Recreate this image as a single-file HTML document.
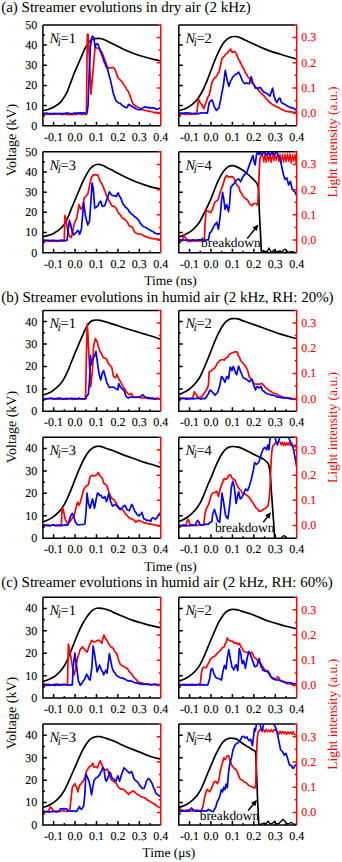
<!DOCTYPE html>
<html><head><meta charset="utf-8"><style>
html,body{margin:0;padding:0;background:#fff;}
body{width:342px;height:862px;overflow:hidden;}
svg{display:block;}
text{font-family:"Liberation Serif",serif;fill:#000;text-rendering:geometricPrecision;}
.t{font-size:15px;}
.n{font-size:12px;stroke:#000;stroke-width:0.12px;}
.r{fill:#ff0000;}
.n.r{stroke:#ff0000;}
.ax{font-size:14px;}
.ax2{font-size:13.5px;}
.ni{font-size:14.5px;}
.bk{font-size:13.4px;}
</style></head><body>
<svg width="342" height="862" viewBox="0 0 342 862">
<text x="1.2" y="11.7" class="t">(a) Streamer evolutions in dry air (2 kHz)</text>
<clipPath id="c000"><rect x="42.90" y="24.90" width="117.90" height="100.90"/></clipPath>
<g clip-path="url(#c000)" fill="none" stroke-linejoin="round" stroke-linecap="round">
<path d="M42.50,110.70 C43.30,110.53 45.92,110.08 47.30,109.70 C48.68,109.32 49.63,108.90 50.80,108.40 C51.97,107.90 53.13,107.35 54.30,106.70 C55.47,106.05 56.63,105.38 57.80,104.50 C58.97,103.62 60.32,102.52 61.30,101.40 C62.28,100.28 62.78,99.27 63.70,97.80 C64.62,96.33 65.67,95.05 66.80,92.60 C67.93,90.15 69.30,86.23 70.50,83.10 C71.70,79.97 72.83,76.72 74.00,73.80 C75.17,70.88 76.32,68.33 77.50,65.60 C78.68,62.87 79.92,60.13 81.10,57.40 C82.28,54.67 83.43,51.53 84.60,49.20 C85.77,46.87 86.93,44.97 88.10,43.40 C89.27,41.83 90.43,40.58 91.60,39.80 C92.77,39.02 93.70,38.92 95.10,38.70 C96.50,38.48 98.27,38.25 100.00,38.50 C101.73,38.75 103.83,39.53 105.50,40.20 C107.17,40.87 107.95,41.48 110.00,42.50 C112.05,43.52 115.00,44.92 117.80,46.30 C120.60,47.68 123.82,49.47 126.80,50.80 C129.78,52.13 132.73,53.27 135.70,54.30 C138.67,55.33 141.63,56.17 144.60,57.00 C147.57,57.83 150.77,58.63 153.50,59.30 C156.23,59.97 159.75,60.72 161.00,61.00" stroke="#000" stroke-width="1.7"/>
<polyline points="42.5,114.4 43.9,114.2 45.3,114.1 46.7,114.5 48.2,114.0 49.6,114.4 51.0,114.3 52.4,114.0 53.8,114.4 55.2,114.0 56.7,114.3 58.1,114.0 59.5,114.0 60.9,114.3 62.3,114.6 63.7,114.0 65.2,114.1 66.6,114.5 68.0,114.7 69.4,114.4 70.8,114.2 72.2,114.8 73.7,113.9 75.1,114.6 76.5,114.1 77.9,114.0 79.3,114.0 80.7,114.1 82.2,114.6 83.6,114.0 85.0,114.4 86.4,114.3 87.3,34.4 88.2,34.4 91.0,94.1 95.1,47.2 97.4,48.3 100.0,49.0 100.6,50.4 101.5,51.6 102.0,53.0 102.7,54.3 105.4,61.5 108.0,68.6 109.2,67.8 110.7,67.7 113.4,67.7 114.6,69.0 115.4,70.6 116.0,72.2 117.8,77.5 118.9,78.8 120.2,79.8 121.4,81.0 122.4,82.3 123.1,83.7 124.1,85.0 125.0,86.4 126.0,87.7 126.5,89.2 127.5,90.5 128.5,91.8 131.2,98.9 133.0,104.3 134.5,105.0 135.7,106.0 137.4,107.0 139.2,107.8 141.0,108.7 142.8,109.6 144.5,110.4 146.4,110.5 148.1,111.1 149.9,111.4 151.7,111.7 153.5,112.3 154.9,112.9 156.5,112.3 158.0,112.8 159.5,113.2 161.0,113.2" stroke="#ff0000" stroke-width="1.7"/>
<polyline points="42.5,113.5 43.9,113.2 45.4,113.5 46.8,113.1 48.2,113.6 49.7,113.7 51.1,113.5 52.6,113.8 54.0,113.3 55.4,113.6 56.9,113.5 58.3,113.5 59.7,113.3 61.2,113.7 62.6,113.8 64.0,113.3 65.5,113.5 66.9,112.9 68.3,113.5 69.8,113.4 71.2,113.8 72.6,113.6 74.1,113.1 75.5,113.2 77.0,113.4 78.4,112.8 79.8,113.2 81.3,112.9 82.7,112.9 84.1,112.8 85.6,113.5 87.0,113.2 88.1,105.0 89.3,70.3 90.4,47.2 91.6,37.9 92.7,36.2 93.9,37.9 95.1,47.2 95.6,45.3 96.8,43.7 98.0,44.3 99.7,49.5 102.0,55.3 104.3,62.2 105.1,63.5 105.6,64.9 105.7,66.4 107.0,67.5 107.3,68.9 107.8,70.3 110.7,81.1 113.4,93.6 116.0,100.7 117.8,102.5 119.1,103.0 120.5,103.4 121.6,104.9 123.2,106.0 124.9,107.2 126.8,107.8 127.9,106.2 128.5,104.3 130.0,105.0 131.2,106.0 132.7,106.8 134.3,107.7 135.7,108.7 137.4,109.3 139.2,109.7 141.0,109.6 142.0,108.4 143.2,107.6 144.6,106.9 146.5,107.1 148.2,107.8 150.0,107.6 151.7,107.8 153.5,107.8 155.3,108.6 157.1,109.3 159.0,108.4 161.0,107.8" stroke="#0000ff" stroke-width="1.7"/>
</g>
<path d="M42.90,24.90 V125.80 H160.80 M42.90,24.90 H158.80" stroke="#000" stroke-width="1.5" fill="none"/>
<path d="M158.30,24.90 H160.80 V125.80" stroke="#ff0000" stroke-width="1.5" fill="none"/>
<path d="M53.62,125.80 v-4 M64.34,125.80 v-2 M75.05,125.80 v-4 M85.77,125.80 v-2 M96.49,125.80 v-4 M107.21,125.80 v-2 M117.93,125.80 v-4 M128.65,125.80 v-2 M139.36,125.80 v-4 M150.08,125.80 v-2 M42.90,115.71 h2 M42.90,105.62 h4 M42.90,95.53 h2 M42.90,85.44 h4 M42.90,75.35 h2 M42.90,65.26 h4 M42.90,55.17 h2 M42.90,45.08 h4 M42.90,34.99 h2" stroke="#000" stroke-width="1.5" fill="none"/>
<path d="M160.80,113.19 h-4 M160.80,100.58 h-2 M160.80,87.96 h-4 M160.80,75.35 h-2 M160.80,62.74 h-4 M160.80,50.12 h-2 M160.80,37.51 h-4" stroke="#ff0000" stroke-width="1.5" fill="none"/>
<text x="53.62" y="140.60" class="n" text-anchor="middle">-0.1</text>
<text x="75.05" y="140.60" class="n" text-anchor="middle">0.0</text>
<text x="96.49" y="140.60" class="n" text-anchor="middle">0.1</text>
<text x="117.93" y="140.60" class="n" text-anchor="middle">0.2</text>
<text x="139.36" y="140.60" class="n" text-anchor="middle">0.3</text>
<text x="160.80" y="140.60" class="n" text-anchor="middle">0.4</text>
<text x="37.2" y="129.70" class="n" text-anchor="end">0</text>
<text x="37.2" y="109.52" class="n" text-anchor="end">10</text>
<text x="37.2" y="89.34" class="n" text-anchor="end">20</text>
<text x="37.2" y="69.16" class="n" text-anchor="end">30</text>
<text x="37.2" y="48.98" class="n" text-anchor="end">40</text>
<text x="37.2" y="28.80" class="n" text-anchor="end">50</text>
<text x="49.50" y="43.10" class="ni"><tspan font-style="italic">N</tspan><tspan font-style="italic" font-size="12" dx="-1.6" dy="3">i</tspan><tspan dx="-0.4" dy="-3">=1</tspan></text>
<clipPath id="c001"><rect x="178.80" y="24.90" width="117.90" height="100.90"/></clipPath>
<g clip-path="url(#c001)" fill="none" stroke-linejoin="round" stroke-linecap="round">
<path d="M178.50,110.50 C179.60,110.20 182.80,109.73 185.10,108.70 C187.40,107.67 190.22,105.93 192.30,104.30 C194.38,102.67 195.82,101.28 197.60,98.90 C199.38,96.52 201.22,93.57 203.00,90.00 C204.78,86.43 206.52,81.97 208.30,77.50 C210.08,73.03 211.92,67.65 213.70,63.20 C215.48,58.75 217.22,54.37 219.00,50.80 C220.78,47.23 222.62,44.03 224.40,41.80 C226.18,39.57 227.92,38.28 229.70,37.40 C231.48,36.52 233.55,36.53 235.10,36.50 C236.65,36.47 237.37,36.60 239.00,37.20 C240.63,37.80 242.43,38.97 244.90,40.10 C247.37,41.23 250.82,42.67 253.80,44.00 C256.78,45.33 259.82,46.83 262.80,48.10 C265.78,49.37 268.73,50.57 271.70,51.60 C274.67,52.63 277.63,53.40 280.60,54.30 C283.57,55.20 286.85,56.22 289.50,57.00 C292.15,57.78 295.33,58.67 296.50,59.00" stroke="#000" stroke-width="1.7"/>
<polyline points="178.5,114.1 180.0,113.7 181.5,114.0 183.1,114.0 184.6,114.2 186.1,114.5 187.6,114.3 189.1,114.1 190.6,114.2 192.1,114.3 193.7,113.7 195.2,114.5 196.7,114.1 198.5,98.9 199.1,100.4 199.7,101.9 200.6,103.2 201.7,104.5 202.4,105.9 203.4,107.1 203.9,108.7 206.5,100.7 207.3,99.4 207.5,97.8 208.2,96.5 209.2,95.3 211.9,82.9 212.6,81.0 213.7,79.3 214.8,77.7 216.3,76.6 217.1,75.1 217.8,73.5 219.0,72.2 221.7,59.7 222.2,58.2 223.2,57.1 224.4,56.1 225.3,54.6 226.6,53.6 227.9,52.5 228.5,51.1 230.0,50.4 230.6,49.0 231.4,50.8 232.4,52.5 233.6,51.7 235.1,51.6 236.0,53.4 236.9,54.9 237.5,56.5 238.1,58.1 238.7,59.7 239.9,61.0 240.2,62.8 241.4,64.1 241.6,65.6 242.6,66.8 243.2,68.1 244.1,69.4 244.6,70.7 244.9,72.2 245.9,73.4 246.9,74.7 247.4,76.3 248.5,77.5 249.7,78.7 250.7,80.0 250.9,81.8 252.1,82.9 253.0,84.0 254.1,84.9 254.7,86.2 255.6,87.3 257.1,88.2 258.0,89.7 259.2,90.9 260.1,92.4 261.4,93.5 262.8,94.4 263.5,95.6 264.7,96.5 265.5,97.7 266.3,98.9 267.7,99.9 268.5,101.5 269.9,102.5 271.1,103.4 272.2,104.4 273.5,105.1 275.3,105.9 277.0,106.9 278.9,107.6 280.6,108.7 282.3,109.9 284.2,110.5 285.8,111.4 287.7,111.4 289.5,111.9 291.3,111.7 293.0,112.2 294.7,112.4 296.5,112.3" stroke="#ff0000" stroke-width="1.7"/>
<polyline points="178.5,113.2 179.9,113.4 181.4,113.0 182.8,113.2 184.3,113.1 185.7,112.8 187.2,112.8 188.6,113.0 190.1,113.0 191.5,113.4 192.9,113.6 194.4,113.2 195.8,113.6 197.3,113.6 198.7,113.6 200.2,113.1 201.6,112.9 203.1,113.0 204.5,112.9 206.0,112.9 207.4,113.2 209.2,102.5 210.6,101.2 211.9,99.8 213.7,104.3 214.0,106.0 214.7,107.5 215.7,108.9 216.3,110.5 217.7,109.2 219.0,107.8 220.8,98.9 223.5,84.6 225.3,70.4 227.0,79.3 228.8,86.4 230.6,81.1 231.7,79.4 232.4,77.5 234.2,75.7 235.3,74.5 236.9,73.9 238.7,72.2 239.5,74.0 240.5,75.7 242.2,80.2 242.8,81.6 243.8,82.7 244.9,83.7 246.7,82.9 248.0,83.5 249.4,83.7 251.2,76.6 252.9,82.9 253.6,84.2 254.5,85.4 254.7,87.0 255.6,88.2 258.3,88.2 260.1,87.3 261.1,88.4 261.7,89.9 262.8,90.9 263.9,92.1 265.4,92.7 266.8,93.5 268.1,94.4 269.9,96.2 272.6,88.2 274.3,97.1 275.1,98.4 275.3,100.0 276.1,101.2 277.0,102.5 277.6,100.8 278.5,99.3 279.7,98.0 280.7,99.2 280.7,100.9 281.5,102.2 282.4,103.4 284.3,104.0 286.0,105.1 287.6,106.3 289.5,106.9 291.2,107.8 293.1,107.8 294.1,108.8 295.5,109.5 296.5,110.5" stroke="#0000ff" stroke-width="1.7"/>
</g>
<path d="M178.80,24.90 V125.80 H296.70 M178.80,24.90 H294.70" stroke="#000" stroke-width="1.5" fill="none"/>
<path d="M294.20,24.90 H296.70 V125.80" stroke="#ff0000" stroke-width="1.5" fill="none"/>
<path d="M189.52,125.80 v-4 M200.24,125.80 v-2 M210.95,125.80 v-4 M221.67,125.80 v-2 M232.39,125.80 v-4 M243.11,125.80 v-2 M253.83,125.80 v-4 M264.55,125.80 v-2 M275.26,125.80 v-4 M285.98,125.80 v-2 M178.80,115.71 h2 M178.80,105.62 h4 M178.80,95.53 h2 M178.80,85.44 h4 M178.80,75.35 h2 M178.80,65.26 h4 M178.80,55.17 h2 M178.80,45.08 h4 M178.80,34.99 h2" stroke="#000" stroke-width="1.5" fill="none"/>
<path d="M296.70,113.19 h-4 M296.70,100.58 h-2 M296.70,87.96 h-4 M296.70,75.35 h-2 M296.70,62.74 h-4 M296.70,50.12 h-2 M296.70,37.51 h-4" stroke="#ff0000" stroke-width="1.5" fill="none"/>
<text x="189.52" y="140.60" class="n" text-anchor="middle">-0.1</text>
<text x="210.95" y="140.60" class="n" text-anchor="middle">0.0</text>
<text x="232.39" y="140.60" class="n" text-anchor="middle">0.1</text>
<text x="253.83" y="140.60" class="n" text-anchor="middle">0.2</text>
<text x="275.26" y="140.60" class="n" text-anchor="middle">0.3</text>
<text x="296.70" y="140.60" class="n" text-anchor="middle">0.4</text>
<text x="301.3" y="117.09" class="n r">0.0</text>
<text x="301.3" y="91.86" class="n r">0.1</text>
<text x="301.3" y="66.64" class="n r">0.2</text>
<text x="301.3" y="41.41" class="n r">0.3</text>
<text x="185.40" y="43.10" class="ni"><tspan font-style="italic">N</tspan><tspan font-style="italic" font-size="12" dx="-1.6" dy="3">i</tspan><tspan dx="-0.4" dy="-3">=2</tspan></text>
<clipPath id="c010"><rect x="42.90" y="151.80" width="117.90" height="100.90"/></clipPath>
<g clip-path="url(#c010)" fill="none" stroke-linejoin="round" stroke-linecap="round">
<path d="M42.50,236.90 C43.20,236.73 45.22,236.30 46.70,235.90 C48.18,235.50 50.02,235.05 51.40,234.50 C52.78,233.95 53.83,233.28 55.00,232.60 C56.17,231.92 57.32,231.23 58.40,230.40 C59.48,229.57 60.53,228.58 61.50,227.60 C62.47,226.62 63.35,225.72 64.20,224.50 C65.05,223.28 65.82,221.85 66.60,220.30 C67.38,218.75 68.08,217.18 68.90,215.20 C69.72,213.22 70.40,211.13 71.50,208.40 C72.60,205.67 74.25,201.77 75.50,198.80 C76.75,195.83 77.83,193.33 79.00,190.60 C80.17,187.87 81.33,184.93 82.50,182.40 C83.67,179.87 84.83,177.55 86.00,175.40 C87.17,173.25 88.32,171.07 89.50,169.50 C90.68,167.93 91.92,166.83 93.10,166.00 C94.28,165.17 95.43,164.75 96.60,164.50 C97.77,164.25 98.93,164.28 100.10,164.50 C101.27,164.72 102.43,165.25 103.60,165.80 C104.77,166.35 105.70,167.08 107.10,167.80 C108.50,168.52 110.22,169.18 112.00,170.10 C113.78,171.02 115.33,172.02 117.80,173.30 C120.27,174.58 123.82,176.40 126.80,177.80 C129.78,179.20 132.73,180.52 135.70,181.70 C138.67,182.88 141.63,183.92 144.60,184.90 C147.57,185.88 150.77,186.92 153.50,187.60 C156.23,188.28 159.75,188.77 161.00,189.00" stroke="#000" stroke-width="1.7"/>
<polyline points="42.5,241.1 44.0,241.1 45.4,240.8 46.9,240.7 48.3,241.5 49.8,241.2 51.2,241.1 52.7,241.5 54.1,241.0 55.6,241.4 57.0,241.4 58.5,240.8 59.9,240.9 61.4,240.9 62.8,240.9 64.3,241.1 64.8,215.5 66.0,218.0 67.5,230.0 69.5,236.2 71.2,237.4 72.2,234.0 74.3,223.3 75.2,221.8 75.7,220.1 76.7,218.7 79.0,204.6 80.8,209.3 81.6,208.1 82.5,207.0 84.3,197.6 86.0,196.4 86.6,195.0 87.8,194.1 89.5,185.9 91.3,177.7 92.5,176.4 93.1,174.8 95.4,174.8 97.7,174.8 100.1,181.2 101.4,182.9 102.4,184.7 104.7,190.6 105.3,192.0 105.8,193.5 106.2,195.1 107.1,196.4 107.9,197.9 108.3,199.7 109.4,201.1 110.3,202.7 111.1,204.2 112.0,205.8 114.3,206.3 115.1,207.5 116.4,208.4 116.9,209.9 117.8,211.6 118.7,213.4 119.8,214.4 120.9,215.5 121.4,217.0 122.4,218.1 124.0,218.6 125.0,219.7 126.3,221.0 127.6,222.3 128.3,224.2 129.4,225.9 130.7,226.4 132.1,226.8 132.9,228.1 133.4,229.5 134.1,230.8 134.8,232.1 136.4,233.2 138.3,233.9 140.2,234.0 141.9,234.8 143.7,235.7 145.5,236.6 147.3,237.1 149.0,238.0 150.5,238.0 152.0,238.7 153.5,238.7 155.0,238.8 156.5,239.0 158.0,239.3 159.5,239.6 161.0,239.3" stroke="#ff0000" stroke-width="1.7"/>
<polyline points="42.5,240.3 43.9,240.2 45.4,240.4 46.8,240.3 48.3,240.3 49.7,240.5 51.1,240.3 52.6,240.3 54.0,240.3 55.5,240.7 56.9,240.5 58.4,240.6 59.8,240.7 61.2,240.1 62.7,240.4 64.1,240.7 65.6,240.6 67.0,240.3 68.2,230.0 69.5,220.4 70.5,224.0 72.3,232.0 73.3,233.4 73.8,235.0 74.7,233.6 76.1,232.7 76.9,231.5 77.8,230.4 78.8,231.6 79.2,233.0 79.6,234.5 81.4,229.2 83.7,202.3 85.5,216.3 87.8,225.1 88.0,223.6 89.1,222.4 89.5,221.0 90.7,204.6 92.1,183.0 93.3,189.4 94.8,208.1 96.1,207.5 97.1,206.4 98.3,205.1 98.9,203.5 99.6,202.1 100.7,201.1 102.4,206.4 104.7,205.8 107.1,198.8 109.4,191.8 110.1,193.1 111.0,194.2 112.0,195.3 114.3,195.6 116.4,196.5 117.1,194.5 118.4,192.9 118.8,194.5 119.4,196.1 120.5,197.4 123.2,204.5 124.6,205.5 125.3,207.2 126.8,208.1 127.7,209.1 128.6,210.3 129.1,211.7 130.3,212.5 131.3,213.9 132.9,214.7 133.9,216.1 135.1,217.0 136.3,217.9 137.5,218.8 138.5,220.2 139.5,221.6 140.1,223.2 141.4,224.3 142.4,225.7 143.7,226.8 145.7,227.3 147.3,228.6 149.0,229.5 150.8,230.4 152.0,231.2 153.5,231.8 154.4,233.0 155.8,233.3 157.1,233.9 159.1,233.9 161.0,233.6" stroke="#0000ff" stroke-width="1.7"/>
</g>
<path d="M42.90,151.80 V252.70 H160.80 M42.90,151.80 H158.80" stroke="#000" stroke-width="1.5" fill="none"/>
<path d="M158.30,151.80 H160.80 V252.70" stroke="#ff0000" stroke-width="1.5" fill="none"/>
<path d="M53.62,252.70 v-4 M64.34,252.70 v-2 M75.05,252.70 v-4 M85.77,252.70 v-2 M96.49,252.70 v-4 M107.21,252.70 v-2 M117.93,252.70 v-4 M128.65,252.70 v-2 M139.36,252.70 v-4 M150.08,252.70 v-2 M42.90,242.61 h2 M42.90,232.52 h4 M42.90,222.43 h2 M42.90,212.34 h4 M42.90,202.25 h2 M42.90,192.16 h4 M42.90,182.07 h2 M42.90,171.98 h4 M42.90,161.89 h2" stroke="#000" stroke-width="1.5" fill="none"/>
<path d="M160.80,240.09 h-4 M160.80,227.48 h-2 M160.80,214.86 h-4 M160.80,202.25 h-2 M160.80,189.64 h-4 M160.80,177.03 h-2 M160.80,164.41 h-4" stroke="#ff0000" stroke-width="1.5" fill="none"/>
<text x="53.62" y="267.50" class="n" text-anchor="middle">-0.1</text>
<text x="75.05" y="267.50" class="n" text-anchor="middle">0.0</text>
<text x="96.49" y="267.50" class="n" text-anchor="middle">0.1</text>
<text x="117.93" y="267.50" class="n" text-anchor="middle">0.2</text>
<text x="139.36" y="267.50" class="n" text-anchor="middle">0.3</text>
<text x="160.80" y="267.50" class="n" text-anchor="middle">0.4</text>
<text x="37.2" y="256.60" class="n" text-anchor="end">0</text>
<text x="37.2" y="236.42" class="n" text-anchor="end">10</text>
<text x="37.2" y="216.24" class="n" text-anchor="end">20</text>
<text x="37.2" y="196.06" class="n" text-anchor="end">30</text>
<text x="37.2" y="175.88" class="n" text-anchor="end">40</text>
<text x="37.2" y="155.70" class="n" text-anchor="end">50</text>
<text x="49.50" y="170.00" class="ni"><tspan font-style="italic">N</tspan><tspan font-style="italic" font-size="12" dx="-1.6" dy="3">i</tspan><tspan dx="-0.4" dy="-3">=3</tspan></text>
<clipPath id="c011"><rect x="178.80" y="151.80" width="117.90" height="100.90"/></clipPath>
<g clip-path="url(#c011)" fill="none" stroke-linejoin="round" stroke-linecap="round">
<path d="M178.50,237.00 C179.20,236.77 181.22,236.22 182.70,235.60 C184.18,234.98 185.85,234.17 187.40,233.30 C188.95,232.43 190.45,231.67 192.00,230.40 C193.55,229.13 195.33,227.27 196.70,225.70 C198.07,224.13 199.03,222.95 200.20,221.00 C201.37,219.05 202.48,216.45 203.70,214.00 C204.92,211.55 206.20,209.03 207.50,206.30 C208.80,203.57 210.25,200.60 211.50,197.60 C212.75,194.60 213.83,191.22 215.00,188.30 C216.17,185.38 217.33,182.55 218.50,180.10 C219.67,177.65 220.83,175.45 222.00,173.60 C223.17,171.75 224.32,170.22 225.50,169.00 C226.68,167.78 227.92,166.85 229.10,166.30 C230.28,165.75 231.43,165.65 232.60,165.70 C233.77,165.75 234.87,166.15 236.10,166.60 C237.33,167.05 238.77,167.72 240.00,168.40 C241.23,169.08 242.33,169.83 243.50,170.70 C244.67,171.57 245.83,172.62 247.00,173.60 C248.17,174.58 249.42,175.62 250.50,176.60 C251.58,177.58 252.62,178.63 253.50,179.50 C254.38,180.37 255.13,180.93 255.80,181.80 C256.47,182.67 257.05,183.43 257.50,184.70 C257.95,185.97 258.27,187.05 258.50,189.40 C258.73,191.75 258.77,195.28 258.90,198.80 C259.03,202.32 259.13,206.60 259.30,210.50 C259.47,214.40 259.70,218.30 259.90,222.20 C260.10,226.10 260.30,230.00 260.50,233.90 C260.70,237.80 260.93,242.25 261.10,245.60 C261.27,248.95 261.43,252.60 261.50,254.00" stroke="#000" stroke-width="1.7"/>
<polyline points="178.5,241.2 180.3,241.1 182.0,241.0 183.2,237.0 184.0,234.5 185.2,237.5 186.4,239.1 187.0,241.0 188.4,241.4 189.9,241.3 191.3,241.4 192.8,240.6 194.2,240.8 195.7,240.6 197.1,241.3 198.5,240.8 200.0,240.7 201.4,240.9 202.9,241.4 204.3,241.0 205.0,225.0 206.1,210.5 208.4,211.1 209.4,212.2 210.7,212.8 211.4,211.0 212.5,209.3 214.3,203.5 215.0,202.1 216.2,201.1 217.6,200.2 218.5,198.8 220.3,191.8 222.6,185.9 225.0,177.7 225.9,176.6 226.7,175.4 227.8,176.4 229.1,177.1 231.4,176.6 233.1,177.1 234.0,178.4 234.7,179.9 234.7,181.6 235.5,183.0 236.7,184.4 237.8,185.9 239.0,187.5 239.6,189.4 240.0,191.3 241.2,192.9 242.2,194.7 243.5,196.4 244.5,197.8 245.8,198.8 247.3,199.7 248.2,201.1 249.1,203.0 250.5,204.6 252.3,205.8 252.8,204.4 254.0,203.5 255.8,203.5 257.5,205.2 258.1,198.8 258.7,187.1 259.3,169.5 259.9,159.0 261.1,155.5" stroke="#ff0000" stroke-width="1.7"/>
<polyline points="261.1,155.5 262.5,154.7 263.8,162.1 265.0,154.1 266.2,162.4 267.5,154.7 268.8,161.4 270.0,153.9 271.2,162.3 272.5,154.0 273.8,160.9 275.0,154.0 276.2,160.7 277.5,154.0 278.8,161.6 280.0,154.1 281.2,163.2 282.5,154.1 283.8,162.3 285.0,154.0 286.2,161.7 287.5,153.8 288.8,161.4 290.0,153.8 291.2,163.1 292.5,154.4 293.8,161.2 295.0,154.3 296.2,163.8" stroke="#ff0000" stroke-width="1.35"/>
<polyline points="178.5,240.0 179.9,239.6 181.3,240.3 182.8,239.9 184.2,240.0 185.6,240.3 187.0,239.9 188.5,240.0 189.9,240.2 191.3,240.4 192.7,239.9 194.2,240.3 195.6,240.2 197.0,240.1 198.4,239.9 199.9,239.9 201.3,239.6 202.7,239.7 204.1,239.6 205.6,240.2 207.0,239.8 208.4,240.0 209.8,232.7 211.5,231.5 212.1,229.6 213.3,228.0 213.8,226.1 215.0,224.5 216.1,223.5 216.8,222.2 218.5,229.2 220.3,215.2 221.5,201.1 222.6,192.4 223.8,198.8 225.0,209.3 226.7,204.6 228.5,211.6 229.6,203.5 230.8,187.1 232.0,186.1 232.6,184.7 234.3,183.6 235.3,182.2 236.1,180.7 237.1,179.6 238.4,178.9 239.7,180.2 240.7,181.8 241.1,180.4 241.9,179.2 242.2,177.8 243.1,176.6 244.2,175.1 245.4,173.6 246.6,173.0 248.8,166.6 251.1,160.2 252.9,155.5 254.0,161.4 255.2,164.9 256.4,155.5 257.5,152.0 258.4,153.1 259.0,154.5 260.1,153.2 260.5,151.5 260.9,153.2 262.0,154.5 263.0,153.3 264.0,152.0 265.2,153.4 266.0,155.0 267.3,154.0 268.0,152.5 269.1,153.9 270.0,155.5 270.9,153.9 272.0,152.5 273.4,153.5 274.0,155.0 274.9,153.4 276.0,152.0 277.0,152.8 277.7,154.1 278.3,155.5 279.3,156.7 279.7,158.1 281.5,165.3 283.3,174.2 285.0,179.5 286.8,177.8 288.6,184.9 289.5,183.1 290.4,181.3 292.2,189.3 294.0,191.1 295.3,192.4 295.9,194.0 296.6,195.6" stroke="#0000ff" stroke-width="1.7"/>
<polyline points="261.5,252.5 263.4,250.5 264.6,252.3 265.8,251.3 267.0,252.5 268.9,248.0 270.7,251.5 272.0,252.3 273.8,249.9 275.7,252.0 278.1,251.5 280.6,251.0 282.0,252.0 283.6,249.8 285.5,249.2 287.0,251.0 288.5,252.2 290.4,251.8 292.9,251.5 294.5,252.5 296.5,252.6" stroke="#000" stroke-width="1.3"/>
</g>
<path d="M178.80,151.80 V252.70 H296.70 M178.80,151.80 H294.70" stroke="#000" stroke-width="1.5" fill="none"/>
<path d="M294.20,151.80 H296.70 V252.70" stroke="#ff0000" stroke-width="1.5" fill="none"/>
<path d="M189.52,252.70 v-4 M200.24,252.70 v-2 M210.95,252.70 v-4 M221.67,252.70 v-2 M232.39,252.70 v-4 M243.11,252.70 v-2 M253.83,252.70 v-4 M264.55,252.70 v-2 M275.26,252.70 v-4 M285.98,252.70 v-2 M178.80,242.61 h2 M178.80,232.52 h4 M178.80,222.43 h2 M178.80,212.34 h4 M178.80,202.25 h2 M178.80,192.16 h4 M178.80,182.07 h2 M178.80,171.98 h4 M178.80,161.89 h2" stroke="#000" stroke-width="1.5" fill="none"/>
<path d="M296.70,240.09 h-4 M296.70,227.48 h-2 M296.70,214.86 h-4 M296.70,202.25 h-2 M296.70,189.64 h-4 M296.70,177.03 h-2 M296.70,164.41 h-4" stroke="#ff0000" stroke-width="1.5" fill="none"/>
<text x="189.52" y="267.50" class="n" text-anchor="middle">-0.1</text>
<text x="210.95" y="267.50" class="n" text-anchor="middle">0.0</text>
<text x="232.39" y="267.50" class="n" text-anchor="middle">0.1</text>
<text x="253.83" y="267.50" class="n" text-anchor="middle">0.2</text>
<text x="275.26" y="267.50" class="n" text-anchor="middle">0.3</text>
<text x="296.70" y="267.50" class="n" text-anchor="middle">0.4</text>
<text x="301.3" y="243.99" class="n r">0.0</text>
<text x="301.3" y="218.76" class="n r">0.1</text>
<text x="301.3" y="193.54" class="n r">0.2</text>
<text x="301.3" y="168.31" class="n r">0.3</text>
<text x="185.40" y="170.00" class="ni"><tspan font-style="italic">N</tspan><tspan font-style="italic" font-size="12" dx="-1.6" dy="3">i</tspan><tspan dx="-0.4" dy="-3">=4</tspan></text>
<text x="201.1" y="247.0" class="bk">breakdown</text>
<path d="M247.20,238.60 L255.29,228.42" stroke="#000" stroke-width="1.5" fill="none"/>
<path d="M258.40,224.50 L256.86,230.94 L252.48,227.46 Z" fill="#000"/>
<text transform="translate(15.8,140.10) rotate(-90)" class="ax" text-anchor="middle">Voltage (kV)</text>
<text transform="translate(337.4,141.90) rotate(-90)" class="ax2 r" text-anchor="middle">Light intensity (a.u.)</text>
<text x="170.45" y="285.4" class="ax2" text-anchor="middle">Time (ns)</text>
<text x="1.2" y="301.8" class="t">(b) Streamer evolutions in humid air (2 kHz, RH: 20%)</text>
<clipPath id="c100"><rect x="42.90" y="310.40" width="117.90" height="100.90"/></clipPath>
<g clip-path="url(#c100)" fill="none" stroke-linejoin="round" stroke-linecap="round">
<path d="M42.50,395.30 C43.20,395.05 45.22,394.40 46.70,393.80 C48.18,393.20 49.85,392.63 51.40,391.70 C52.95,390.77 54.45,389.57 56.00,388.20 C57.55,386.83 59.33,385.15 60.70,383.50 C62.07,381.85 63.03,380.35 64.20,378.30 C65.37,376.25 66.48,373.95 67.70,371.20 C68.92,368.45 70.20,365.02 71.50,361.80 C72.80,358.58 74.25,354.92 75.50,351.90 C76.75,348.88 77.83,346.42 79.00,343.70 C80.17,340.98 81.33,338.22 82.50,335.60 C83.67,332.98 84.83,330.15 86.00,328.00 C87.17,325.85 88.32,323.97 89.50,322.70 C90.68,321.43 91.92,320.85 93.10,320.40 C94.28,319.95 95.43,320.00 96.60,320.00 C97.77,320.00 98.93,320.18 100.10,320.40 C101.27,320.62 102.43,320.98 103.60,321.30 C104.77,321.62 105.70,321.87 107.10,322.30 C108.50,322.73 110.22,323.33 112.00,323.90 C113.78,324.47 115.33,324.90 117.80,325.70 C120.27,326.50 123.82,327.75 126.80,328.70 C129.78,329.65 132.73,330.50 135.70,331.40 C138.67,332.30 141.63,333.20 144.60,334.10 C147.57,335.00 150.77,335.90 153.50,336.80 C156.23,337.70 159.75,339.05 161.00,339.50" stroke="#000" stroke-width="1.7"/>
<polyline points="42.5,398.9 43.9,398.5 45.4,398.8 46.8,398.5 48.2,398.5 49.7,398.7 51.1,398.7 52.5,399.0 54.0,398.9 55.4,399.1 56.8,399.0 58.3,399.1 59.7,399.2 61.1,398.8 62.6,398.7 64.0,399.3 65.4,398.6 66.9,399.1 68.3,399.0 69.7,398.5 71.2,399.2 72.6,399.3 74.0,399.0 75.5,399.1 76.9,399.2 78.3,398.6 79.8,398.9 81.2,398.9 82.6,399.2 84.1,399.2 85.5,398.9 86.3,360.0 87.2,323.9 88.0,335.0 89.0,357.8 90.7,387.0 92.5,369.5 93.6,346.1 95.4,338.5 96.0,340.1 97.1,341.4 98.9,348.4 99.6,350.0 100.1,351.7 101.2,353.1 101.9,354.7 102.6,356.3 103.6,357.8 105.9,358.4 106.7,359.7 107.5,361.0 107.7,362.5 108.8,363.5 109.4,364.8 110.4,365.9 111.4,366.9 112.0,368.3 113.4,376.0 115.2,377.8 116.3,376.1 116.9,374.2 118.7,378.7 119.6,380.2 120.4,381.7 121.4,383.1 122.0,384.5 122.6,385.9 123.4,387.1 124.1,388.5 125.4,389.5 125.7,391.3 126.8,392.4 128.0,393.7 129.4,394.7 131.2,393.5 132.1,395.0 133.0,396.5 134.5,396.8 136.0,397.2 137.5,397.3 139.3,397.1 141.0,398.0 142.8,398.0 144.2,397.9 145.7,397.9 147.1,398.1 148.5,398.7 149.9,398.6 151.5,398.4 153.1,398.9 154.6,399.2 156.2,398.8 157.8,398.7 159.4,398.8 161.0,398.9" stroke="#ff0000" stroke-width="1.7"/>
<polyline points="42.5,398.7 43.9,398.9 45.3,398.9 46.7,398.8 48.1,398.8 49.5,398.3 50.9,398.3 52.3,398.4 53.7,398.9 55.1,398.5 56.5,398.7 57.9,398.2 59.3,398.2 60.7,398.4 62.1,398.8 63.5,398.8 65.0,398.8 66.4,398.4 67.8,398.6 69.2,398.5 70.6,398.5 72.0,398.2 73.4,398.9 74.8,398.3 76.2,399.0 77.6,398.9 79.0,398.1 80.4,398.5 81.8,398.8 83.2,398.9 84.6,398.5 86.0,398.5 86.4,397.0 87.0,395.6 88.2,394.5 88.4,392.9 89.5,381.2 90.5,355.4 91.3,364.8 92.5,360.1 93.6,357.8 94.8,355.4 96.0,351.4 97.1,360.1 98.9,373.0 100.7,380.0 102.4,373.0 103.6,370.6 105.3,376.5 107.1,383.5 108.1,384.7 108.6,386.3 109.4,387.6 112.0,387.0 113.4,387.2 114.9,387.8 116.0,389.0 117.8,389.8 118.7,383.6 119.6,385.4 120.5,387.2 122.3,389.0 124.1,390.8 125.9,396.1 127.0,397.3 128.5,397.9 130.2,397.1 132.1,397.0 133.9,397.5 135.7,397.4 137.5,397.1 139.2,396.8 141.2,396.1 142.8,394.7 144.0,396.2 145.5,397.4 147.0,397.3 148.4,398.1 149.9,397.9 151.7,398.3 153.6,398.2 155.3,399.0 156.7,398.4 158.1,398.7 159.6,398.5 161.0,398.4" stroke="#0000ff" stroke-width="1.7"/>
</g>
<path d="M42.90,310.40 V411.30 H160.80 M42.90,310.40 H158.80" stroke="#000" stroke-width="1.5" fill="none"/>
<path d="M158.30,310.40 H160.80 V411.30" stroke="#ff0000" stroke-width="1.5" fill="none"/>
<path d="M53.62,411.30 v-4 M64.34,411.30 v-2 M75.05,411.30 v-4 M85.77,411.30 v-2 M96.49,411.30 v-4 M107.21,411.30 v-2 M117.93,411.30 v-4 M128.65,411.30 v-2 M139.36,411.30 v-4 M150.08,411.30 v-2 M42.90,400.09 h2 M42.90,388.88 h4 M42.90,377.67 h2 M42.90,366.46 h4 M42.90,355.24 h2 M42.90,344.03 h4 M42.90,332.82 h2 M42.90,321.61 h4" stroke="#000" stroke-width="1.5" fill="none"/>
<path d="M160.80,398.69 h-4 M160.80,386.07 h-2 M160.80,373.46 h-4 M160.80,360.85 h-2 M160.80,348.24 h-4 M160.80,335.62 h-2 M160.80,323.01 h-4" stroke="#ff0000" stroke-width="1.5" fill="none"/>
<text x="53.62" y="426.10" class="n" text-anchor="middle">-0.1</text>
<text x="75.05" y="426.10" class="n" text-anchor="middle">0.0</text>
<text x="96.49" y="426.10" class="n" text-anchor="middle">0.1</text>
<text x="117.93" y="426.10" class="n" text-anchor="middle">0.2</text>
<text x="139.36" y="426.10" class="n" text-anchor="middle">0.3</text>
<text x="160.80" y="426.10" class="n" text-anchor="middle">0.4</text>
<text x="37.2" y="415.20" class="n" text-anchor="end">0</text>
<text x="37.2" y="392.78" class="n" text-anchor="end">10</text>
<text x="37.2" y="370.36" class="n" text-anchor="end">20</text>
<text x="37.2" y="347.93" class="n" text-anchor="end">30</text>
<text x="37.2" y="325.51" class="n" text-anchor="end">40</text>
<text x="49.50" y="327.80" class="ni"><tspan font-style="italic">N</tspan><tspan font-style="italic" font-size="12" dx="-1.6" dy="3">i</tspan><tspan dx="-0.4" dy="-3">=1</tspan></text>
<clipPath id="c101"><rect x="178.80" y="310.40" width="117.90" height="100.90"/></clipPath>
<g clip-path="url(#c101)" fill="none" stroke-linejoin="round" stroke-linecap="round">
<path d="M178.50,394.60 C179.20,394.32 181.22,393.58 182.70,392.90 C184.18,392.22 185.85,391.52 187.40,390.50 C188.95,389.48 190.45,388.25 192.00,386.80 C193.55,385.35 195.33,383.52 196.70,381.80 C198.07,380.08 199.03,378.65 200.20,376.50 C201.37,374.35 202.47,371.73 203.70,368.90 C204.93,366.07 206.30,362.68 207.60,359.50 C208.90,356.32 210.27,352.92 211.50,349.80 C212.73,346.68 213.83,343.57 215.00,340.80 C216.17,338.03 217.33,335.53 218.50,333.20 C219.67,330.87 220.83,328.65 222.00,326.80 C223.17,324.95 224.32,323.33 225.50,322.10 C226.68,320.87 227.92,319.98 229.10,319.40 C230.28,318.82 231.43,318.73 232.60,318.60 C233.77,318.47 234.93,318.47 236.10,318.60 C237.27,318.73 238.43,319.02 239.60,319.40 C240.77,319.78 241.70,320.38 243.10,320.90 C244.50,321.42 246.22,321.88 248.00,322.50 C249.78,323.12 251.33,323.72 253.80,324.60 C256.27,325.48 259.82,326.73 262.80,327.80 C265.78,328.87 268.73,329.95 271.70,331.00 C274.67,332.05 277.63,333.13 280.60,334.10 C283.57,335.07 286.85,336.05 289.50,336.80 C292.15,337.55 295.33,338.30 296.50,338.60" stroke="#000" stroke-width="1.7"/>
<polyline points="178.5,398.3 179.9,398.1 181.3,398.0 182.7,398.2 184.1,398.1 185.6,398.6 187.0,397.9 188.4,398.5 189.8,398.6 191.2,398.0 192.6,398.3 194.4,391.7 194.9,393.1 196.1,394.0 196.8,395.6 197.9,397.0 200.2,397.5 201.7,396.6 202.6,395.2 203.6,393.6 204.9,392.3 206.0,390.5 207.2,388.8 208.4,385.0 209.2,371.8 210.9,371.2 212.0,370.0 213.3,368.9 214.8,368.1 215.6,366.6 216.4,365.3 217.0,363.8 217.9,362.5 219.1,361.3 220.3,360.1 222.6,359.5 224.4,360.1 225.1,358.8 226.1,357.8 227.9,357.2 228.4,355.5 229.6,354.3 232.0,353.1 234.3,351.9 236.7,351.9 237.8,353.3 238.0,355.2 239.0,356.6 239.9,358.1 240.2,359.9 241.3,361.3 242.7,362.6 243.7,364.2 245.0,365.5 246.0,367.1 246.7,368.7 247.6,370.1 248.0,371.8 249.4,376.9 250.4,378.0 250.9,379.5 252.1,380.4 252.7,381.8 253.6,383.0 254.7,384.0 257.4,384.2 260.1,384.2 261.9,383.3 263.1,384.7 264.5,386.0 265.6,387.7 267.2,388.8 268.2,390.0 269.6,390.6 270.8,391.4 272.5,392.5 274.3,393.2 276.3,393.7 277.9,395.0 279.3,395.8 280.9,396.2 282.4,396.8 284.1,397.4 285.9,397.6 287.7,397.8 289.5,398.0 291.4,398.2 293.1,399.0 294.8,399.4 296.5,399.0" stroke="#ff0000" stroke-width="1.7"/>
<polyline points="178.5,398.7 180.0,398.4 181.4,398.7 182.9,398.6 184.4,398.5 185.8,398.9 187.3,399.1 188.8,398.5 190.2,398.8 191.7,398.5 193.2,398.8 194.6,398.6 196.1,398.4 197.6,398.4 199.0,398.4 200.5,399.1 202.0,398.7 203.4,398.4 204.9,398.7 206.4,397.2 207.2,395.2 208.5,393.7 209.0,391.7 210.5,390.0 211.5,391.1 212.5,392.3 213.7,393.3 214.3,394.6 215.0,395.2 216.0,393.9 217.4,392.9 219.7,385.9 221.5,376.5 222.6,377.4 223.2,378.8 224.2,380.5 225.0,382.3 226.7,376.5 227.9,377.4 228.5,378.8 230.2,367.1 231.3,368.7 232.0,370.6 233.1,366.6 233.9,367.8 234.2,369.3 234.9,370.6 235.2,372.1 235.9,373.4 236.7,374.7 238.6,366.0 240.7,371.8 241.4,373.2 242.0,374.7 242.5,376.2 243.1,377.7 245.4,378.8 246.8,379.6 248.0,380.6 249.4,381.8 250.6,380.4 252.1,379.2 253.8,385.4 255.6,389.9 256.1,387.9 257.4,386.3 259.2,388.1 261.0,386.3 261.8,387.7 261.8,389.5 262.8,390.8 264.2,391.4 265.1,392.5 266.3,393.4 268.1,394.0 269.9,394.3 271.6,395.1 273.5,395.2 275.4,395.9 277.0,397.0 278.8,397.1 280.6,397.4 282.4,397.9 284.2,397.8 285.9,397.9 287.7,397.9 289.4,398.7 291.3,398.8 293.1,399.0 294.8,398.9 296.5,398.4" stroke="#0000ff" stroke-width="1.7"/>
</g>
<path d="M178.80,310.40 V411.30 H296.70 M178.80,310.40 H294.70" stroke="#000" stroke-width="1.5" fill="none"/>
<path d="M294.20,310.40 H296.70 V411.30" stroke="#ff0000" stroke-width="1.5" fill="none"/>
<path d="M189.52,411.30 v-4 M200.24,411.30 v-2 M210.95,411.30 v-4 M221.67,411.30 v-2 M232.39,411.30 v-4 M243.11,411.30 v-2 M253.83,411.30 v-4 M264.55,411.30 v-2 M275.26,411.30 v-4 M285.98,411.30 v-2 M178.80,400.09 h2 M178.80,388.88 h4 M178.80,377.67 h2 M178.80,366.46 h4 M178.80,355.24 h2 M178.80,344.03 h4 M178.80,332.82 h2 M178.80,321.61 h4" stroke="#000" stroke-width="1.5" fill="none"/>
<path d="M296.70,398.69 h-4 M296.70,386.07 h-2 M296.70,373.46 h-4 M296.70,360.85 h-2 M296.70,348.24 h-4 M296.70,335.62 h-2 M296.70,323.01 h-4" stroke="#ff0000" stroke-width="1.5" fill="none"/>
<text x="189.52" y="426.10" class="n" text-anchor="middle">-0.1</text>
<text x="210.95" y="426.10" class="n" text-anchor="middle">0.0</text>
<text x="232.39" y="426.10" class="n" text-anchor="middle">0.1</text>
<text x="253.83" y="426.10" class="n" text-anchor="middle">0.2</text>
<text x="275.26" y="426.10" class="n" text-anchor="middle">0.3</text>
<text x="296.70" y="426.10" class="n" text-anchor="middle">0.4</text>
<text x="301.3" y="402.59" class="n r">0.0</text>
<text x="301.3" y="377.36" class="n r">0.1</text>
<text x="301.3" y="352.14" class="n r">0.2</text>
<text x="301.3" y="326.91" class="n r">0.3</text>
<text x="185.40" y="327.80" class="ni"><tspan font-style="italic">N</tspan><tspan font-style="italic" font-size="12" dx="-1.6" dy="3">i</tspan><tspan dx="-0.4" dy="-3">=2</tspan></text>
<clipPath id="c110"><rect x="42.90" y="437.30" width="117.90" height="100.90"/></clipPath>
<g clip-path="url(#c110)" fill="none" stroke-linejoin="round" stroke-linecap="round">
<path d="M42.50,522.10 C43.20,521.83 45.22,521.17 46.70,520.50 C48.18,519.83 49.85,519.08 51.40,518.10 C52.95,517.12 54.45,515.97 56.00,514.60 C57.55,513.23 59.33,511.55 60.70,509.90 C62.07,508.25 63.03,506.75 64.20,504.70 C65.37,502.65 66.48,500.28 67.70,497.60 C68.92,494.92 70.20,491.80 71.50,488.60 C72.80,485.40 74.25,481.57 75.50,478.40 C76.75,475.23 77.83,472.33 79.00,469.60 C80.17,466.87 81.33,464.35 82.50,462.00 C83.67,459.65 84.83,457.40 86.00,455.50 C87.17,453.60 88.32,451.90 89.50,450.60 C90.68,449.30 91.92,448.40 93.10,447.70 C94.28,447.00 95.43,446.62 96.60,446.40 C97.77,446.18 98.93,446.23 100.10,446.40 C101.27,446.57 102.43,447.00 103.60,447.40 C104.77,447.80 105.70,448.32 107.10,448.80 C108.50,449.28 110.22,449.67 112.00,450.30 C113.78,450.93 115.33,451.63 117.80,452.60 C120.27,453.57 123.82,455.00 126.80,456.10 C129.78,457.20 132.73,458.15 135.70,459.20 C138.67,460.25 141.63,461.43 144.60,462.40 C147.57,463.37 150.77,464.17 153.50,465.00 C156.23,465.83 159.75,467.00 161.00,467.40" stroke="#000" stroke-width="1.7"/>
<polyline points="42.5,525.4 43.9,525.0 45.4,525.0 46.8,525.6 48.3,525.8 49.7,525.4 51.2,525.5 52.6,525.0 54.1,525.3 55.5,525.8 57.0,525.7 58.4,525.7 59.9,525.8 61.3,525.4 62.2,507.6 63.1,509.0 65.4,519.9 66.4,521.3 67.2,522.8 67.7,524.5 68.7,522.9 70.1,521.6 70.9,520.2 71.8,518.9 72.4,517.5 73.7,516.6 74.3,515.2 76.5,505.8 77.7,502.0 78.8,505.3 79.8,503.7 80.4,502.0 81.9,496.5 83.7,489.5 85.0,487.8 86.0,486.0 88.4,484.8 90.1,476.6 91.9,475.4 94.2,476.0 96.6,474.8 97.6,473.8 98.3,472.5 99.2,474.2 100.1,476.0 101.2,477.2 102.4,478.4 103.6,483.0 105.3,484.2 106.5,485.1 107.1,486.5 108.8,491.8 110.6,496.5 112.0,498.8 114.3,499.9 114.9,501.5 116.2,502.8 116.9,504.4 117.5,505.8 118.6,506.8 119.6,507.9 121.0,508.7 122.3,509.7 123.5,510.7 124.3,512.0 125.0,513.3 126.2,514.7 127.6,516.0 128.8,517.4 130.3,518.6 131.8,518.7 133.0,519.5 134.6,520.6 135.7,522.2 137.0,521.3 138.3,520.4 139.6,520.9 141.0,521.3 142.4,522.0 143.7,522.8 145.5,522.9 147.3,523.5 148.7,523.9 150.3,523.7 151.7,524.4 153.2,524.5 154.7,524.9 156.2,525.2 157.7,525.9 159.4,525.9 161.0,526.0" stroke="#ff0000" stroke-width="1.7"/>
<polyline points="42.5,525.4 43.9,525.7 45.3,525.4 46.7,525.1 48.1,525.1 49.5,525.8 50.9,525.5 52.3,525.1 53.7,524.9 55.1,525.3 56.5,525.4 57.9,525.2 59.3,525.0 60.7,525.4 62.1,525.6 63.5,525.0 64.9,524.8 66.3,525.1 67.7,525.2 70.1,517.5 70.7,516.1 71.6,514.8 72.2,513.4 73.6,515.8 75.3,522.2 76.4,523.2 77.1,524.5 78.7,524.8 80.3,524.7 81.9,524.5 83.4,524.3 84.9,524.0 86.0,512.9 87.0,493.0 88.4,503.5 90.1,508.2 92.5,498.8 94.5,508.2 96.0,500.0 97.5,493.0 98.7,494.0 99.5,495.3 101.2,495.3 101.7,497.0 103.0,498.2 104.7,496.5 106.5,501.7 108.8,493.6 110.6,501.7 111.5,503.1 111.8,504.8 112.8,506.2 113.9,505.1 115.2,504.4 116.7,505.6 117.8,507.1 119.0,508.6 120.5,509.7 121.3,508.4 122.6,507.6 123.2,506.2 125.0,505.3 125.6,506.8 126.5,508.1 126.8,509.7 129.4,510.6 131.7,504.4 132.7,505.8 133.2,507.3 133.9,508.8 134.4,510.2 134.9,511.7 136.2,512.7 136.6,514.2 138.0,515.0 139.2,516.0 139.9,514.6 141.3,513.9 141.9,512.4 143.7,518.6 145.2,519.2 146.4,520.4 149.0,520.4 150.8,521.3 151.3,519.3 152.6,517.7 154.2,518.3 155.3,519.5 157.1,517.7 157.9,515.9 158.9,514.2 161.0,516.0" stroke="#0000ff" stroke-width="1.7"/>
</g>
<path d="M42.90,437.30 V538.20 H160.80 M42.90,437.30 H158.80" stroke="#000" stroke-width="1.5" fill="none"/>
<path d="M158.30,437.30 H160.80 V538.20" stroke="#ff0000" stroke-width="1.5" fill="none"/>
<path d="M53.62,538.20 v-4 M64.34,538.20 v-2 M75.05,538.20 v-4 M85.77,538.20 v-2 M96.49,538.20 v-4 M107.21,538.20 v-2 M117.93,538.20 v-4 M128.65,538.20 v-2 M139.36,538.20 v-4 M150.08,538.20 v-2 M42.90,526.99 h2 M42.90,515.78 h4 M42.90,504.57 h2 M42.90,493.36 h4 M42.90,482.14 h2 M42.90,470.93 h4 M42.90,459.72 h2 M42.90,448.51 h4" stroke="#000" stroke-width="1.5" fill="none"/>
<path d="M160.80,525.59 h-4 M160.80,512.97 h-2 M160.80,500.36 h-4 M160.80,487.75 h-2 M160.80,475.14 h-4 M160.80,462.52 h-2 M160.80,449.91 h-4" stroke="#ff0000" stroke-width="1.5" fill="none"/>
<text x="53.62" y="553.00" class="n" text-anchor="middle">-0.1</text>
<text x="75.05" y="553.00" class="n" text-anchor="middle">0.0</text>
<text x="96.49" y="553.00" class="n" text-anchor="middle">0.1</text>
<text x="117.93" y="553.00" class="n" text-anchor="middle">0.2</text>
<text x="139.36" y="553.00" class="n" text-anchor="middle">0.3</text>
<text x="160.80" y="553.00" class="n" text-anchor="middle">0.4</text>
<text x="37.2" y="542.10" class="n" text-anchor="end">0</text>
<text x="37.2" y="519.68" class="n" text-anchor="end">10</text>
<text x="37.2" y="497.26" class="n" text-anchor="end">20</text>
<text x="37.2" y="474.83" class="n" text-anchor="end">30</text>
<text x="37.2" y="452.41" class="n" text-anchor="end">40</text>
<text x="49.50" y="454.70" class="ni"><tspan font-style="italic">N</tspan><tspan font-style="italic" font-size="12" dx="-1.6" dy="3">i</tspan><tspan dx="-0.4" dy="-3">=3</tspan></text>
<clipPath id="c111"><rect x="178.80" y="437.30" width="117.90" height="100.90"/></clipPath>
<g clip-path="url(#c111)" fill="none" stroke-linejoin="round" stroke-linecap="round">
<path d="M178.50,521.60 C179.20,521.32 181.22,520.62 182.70,519.90 C184.18,519.18 185.85,518.38 187.40,517.30 C188.95,516.22 190.45,514.92 192.00,513.40 C193.55,511.88 195.33,509.95 196.70,508.20 C198.07,506.45 199.03,505.05 200.20,502.90 C201.37,500.75 202.47,498.20 203.70,495.30 C204.93,492.40 206.30,488.62 207.60,485.50 C208.90,482.38 210.27,479.55 211.50,476.60 C212.73,473.65 213.83,470.53 215.00,467.80 C216.17,465.07 217.33,462.53 218.50,460.20 C219.67,457.87 220.83,455.62 222.00,453.80 C223.17,451.98 224.32,450.42 225.50,449.30 C226.68,448.18 227.92,447.57 229.10,447.10 C230.28,446.63 231.43,446.55 232.60,446.50 C233.77,446.45 234.87,446.62 236.10,446.80 C237.33,446.98 238.57,447.12 240.00,447.60 C241.43,448.08 243.13,448.97 244.70,449.70 C246.27,450.43 247.85,451.22 249.40,452.00 C250.95,452.78 252.45,453.62 254.00,454.40 C255.55,455.18 257.13,455.92 258.70,456.70 C260.27,457.48 262.03,458.22 263.40,459.10 C264.77,459.98 266.02,461.03 266.90,462.00 C267.78,462.97 268.22,463.45 268.70,464.90 C269.18,466.35 269.48,468.37 269.80,470.70 C270.12,473.03 270.35,475.58 270.60,478.90 C270.85,482.22 271.03,486.70 271.30,490.60 C271.57,494.50 271.92,498.40 272.20,502.30 C272.48,506.20 272.72,510.10 273.00,514.00 C273.28,517.90 273.62,521.37 273.90,525.70 C274.18,530.03 274.57,537.62 274.70,540.00" stroke="#000" stroke-width="1.7"/>
<polyline points="178.5,525.6 180.0,525.9 181.5,525.9 183.0,525.7 184.5,525.9 186.0,525.4 187.2,521.0 187.9,519.3 189.0,521.5 190.5,525.3 192.0,525.7 193.4,525.1 194.9,525.0 196.4,525.6 197.8,525.4 199.3,524.7 200.8,525.3 202.2,525.0 203.7,525.1 204.9,514.0 206.1,509.3 206.8,507.8 207.5,506.4 208.4,505.0 210.3,498.8 210.6,497.2 211.1,495.7 211.9,494.4 212.7,493.0 215.0,492.4 216.8,491.2 218.5,496.5 220.3,488.3 222.0,483.6 222.5,482.2 223.6,481.2 223.5,479.6 224.4,478.4 226.1,479.5 227.4,478.3 227.9,476.6 228.9,475.5 230.2,474.8 231.1,475.9 231.6,477.4 232.6,478.4 233.6,479.5 234.9,480.1 236.7,484.8 237.6,486.2 238.4,487.7 240.0,489.5 241.5,491.0 242.3,493.0 244.7,494.1 247.0,495.3 248.2,496.4 249.4,497.6 250.3,498.7 250.6,500.2 251.7,501.2 253.1,502.8 254.0,504.7 254.9,505.8 255.3,507.2 256.4,508.2 257.9,509.4 258.7,511.1 261.1,511.1 262.2,510.1 263.4,509.3 265.7,508.2 267.1,506.9 268.1,505.3 269.2,498.8 270.2,484.8 270.6,473.1 271.1,461.4 271.8,452.0 272.7,446.2 273.8,445.1 274.5,443.8 276.3,442.7 278.6,441.8" stroke="#ff0000" stroke-width="1.7"/>
<polyline points="292.6,445.2 294.5,446.5 295.5,445.0 297.0,449.5" stroke="#ff0000" stroke-width="1.7"/>
<polyline points="278.6,441.8 280.0,441.8 281.1,445.0 282.3,441.9 283.4,445.7 284.6,442.1 285.7,445.6 286.9,442.7 288.0,445.3 289.2,442.1 290.3,445.8 291.5,442.4 292.6,445.2" stroke="#ff0000" stroke-width="1.35"/>
<polyline points="178.5,525.5 179.9,525.7 181.3,525.3 182.7,525.2 184.2,525.0 185.6,525.6 187.0,525.8 188.4,525.5 189.8,525.8 191.2,524.9 192.7,525.1 194.1,525.3 195.5,525.3 196.6,522.0 197.6,520.5 199.0,522.0 199.4,523.6 200.5,524.8 202.1,525.1 203.7,524.5 205.2,524.2 206.8,524.3 208.4,524.2 210.3,522.2 211.9,521.6 212.7,514.0 214.4,509.3 216.2,515.2 217.9,521.0 219.7,522.2 220.9,508.2 222.0,493.0 223.8,503.5 225.5,515.2 226.3,516.4 226.8,517.8 227.9,518.7 229.6,505.8 231.4,487.1 232.8,481.3 234.3,487.1 236.1,503.5 237.2,497.6 238.6,491.8 240.2,498.8 241.9,497.6 242.5,495.7 243.7,494.1 245.5,489.0 247.6,490.6 249.4,486.0 251.7,477.8 253.5,469.6 254.6,462.6 256.4,464.3 258.1,463.1 258.9,461.9 259.5,460.5 259.9,459.1 261.6,453.2 263.4,448.5 265.1,447.4 265.7,448.7 266.7,449.7 267.8,445.0 269.0,449.7 269.8,440.3 270.4,437.0 272.0,437.2 273.5,437.1 275.1,437.0 276.3,442.7 277.4,445.0 278.6,441.5 279.7,437.5 281.4,437.2 283.0,437.1 284.7,437.1 286.4,437.4 288.0,437.0 289.1,438.2 289.5,439.7 290.4,441.1 290.5,442.7 291.3,444.1 292.4,445.8 293.1,447.7 294.9,456.6 296.6,466.4" stroke="#0000ff" stroke-width="1.7"/>
<polyline points="275.0,538.6 281.5,538.6 282.5,536.5 284.0,535.6 285.5,536.5 286.5,538.6 296.5,538.6" stroke="#000" stroke-width="1.3"/>
</g>
<path d="M178.80,437.30 V538.20 H296.70 M178.80,437.30 H294.70" stroke="#000" stroke-width="1.5" fill="none"/>
<path d="M294.20,437.30 H296.70 V538.20" stroke="#ff0000" stroke-width="1.5" fill="none"/>
<path d="M189.52,538.20 v-4 M200.24,538.20 v-2 M210.95,538.20 v-4 M221.67,538.20 v-2 M232.39,538.20 v-4 M243.11,538.20 v-2 M253.83,538.20 v-4 M264.55,538.20 v-2 M275.26,538.20 v-4 M285.98,538.20 v-2 M178.80,526.99 h2 M178.80,515.78 h4 M178.80,504.57 h2 M178.80,493.36 h4 M178.80,482.14 h2 M178.80,470.93 h4 M178.80,459.72 h2 M178.80,448.51 h4" stroke="#000" stroke-width="1.5" fill="none"/>
<path d="M296.70,525.59 h-4 M296.70,512.97 h-2 M296.70,500.36 h-4 M296.70,487.75 h-2 M296.70,475.14 h-4 M296.70,462.52 h-2 M296.70,449.91 h-4" stroke="#ff0000" stroke-width="1.5" fill="none"/>
<text x="189.52" y="553.00" class="n" text-anchor="middle">-0.1</text>
<text x="210.95" y="553.00" class="n" text-anchor="middle">0.0</text>
<text x="232.39" y="553.00" class="n" text-anchor="middle">0.1</text>
<text x="253.83" y="553.00" class="n" text-anchor="middle">0.2</text>
<text x="275.26" y="553.00" class="n" text-anchor="middle">0.3</text>
<text x="296.70" y="553.00" class="n" text-anchor="middle">0.4</text>
<text x="301.3" y="529.49" class="n r">0.0</text>
<text x="301.3" y="504.26" class="n r">0.1</text>
<text x="301.3" y="479.04" class="n r">0.2</text>
<text x="301.3" y="453.81" class="n r">0.3</text>
<text x="185.40" y="454.70" class="ni"><tspan font-style="italic">N</tspan><tspan font-style="italic" font-size="12" dx="-1.6" dy="3">i</tspan><tspan dx="-0.4" dy="-3">=4</tspan></text>
<text x="214.9" y="531.6" class="bk">breakdown</text>
<path d="M263.30,522.20 L267.95,516.16" stroke="#000" stroke-width="1.5" fill="none"/>
<path d="M271.00,512.20 L269.56,518.66 L265.12,515.25 Z" fill="#000"/>
<text transform="translate(15.8,427.10) rotate(-90)" class="ax" text-anchor="middle">Voltage (kV)</text>
<text transform="translate(337.4,427.40) rotate(-90)" class="ax2 r" text-anchor="middle">Light intensity (a.u.)</text>
<text x="170.45" y="570.9" class="ax2" text-anchor="middle">Time (ns)</text>
<text x="1.2" y="587.4" class="t">(c) Streamer evolutions in humid air (2 kHz, RH: 60%)</text>
<clipPath id="c200"><rect x="42.90" y="597.20" width="117.90" height="100.90"/></clipPath>
<g clip-path="url(#c200)" fill="none" stroke-linejoin="round" stroke-linecap="round">
<path d="M42.50,681.80 C43.20,681.55 45.22,680.88 46.70,680.30 C48.18,679.72 49.85,679.12 51.40,678.30 C52.95,677.48 54.45,676.67 56.00,675.40 C57.55,674.13 59.33,672.27 60.70,670.70 C62.07,669.13 63.03,667.95 64.20,666.00 C65.37,664.05 66.48,661.73 67.70,659.00 C68.92,656.27 70.20,652.85 71.50,649.60 C72.80,646.35 74.25,642.57 75.50,639.50 C76.75,636.43 77.83,633.78 79.00,631.20 C80.17,628.62 81.33,626.18 82.50,624.00 C83.67,621.82 84.83,619.87 86.00,618.10 C87.17,616.33 88.32,614.77 89.50,613.40 C90.68,612.03 91.92,610.75 93.10,609.90 C94.28,609.05 95.43,608.60 96.60,608.30 C97.77,608.00 98.93,608.03 100.10,608.10 C101.27,608.17 102.43,608.45 103.60,608.70 C104.77,608.95 105.70,609.12 107.10,609.60 C108.50,610.08 110.80,611.05 112.00,611.60 C113.20,612.15 112.43,612.08 114.30,612.90 C116.17,613.72 120.23,615.30 123.20,616.50 C126.17,617.70 129.13,619.05 132.10,620.10 C135.07,621.15 138.03,621.92 141.00,622.80 C143.97,623.68 146.57,624.57 149.90,625.40 C153.23,626.23 159.15,627.40 161.00,627.80" stroke="#000" stroke-width="1.7"/>
<polyline points="42.5,684.5 44.0,684.1 45.4,684.1 46.9,684.5 48.4,684.3 49.9,684.9 51.3,684.8 52.8,684.9 54.3,684.3 55.7,684.1 57.2,684.1 58.7,684.5 60.1,684.7 61.6,684.5 63.1,684.3 64.6,684.4 66.0,684.6 67.5,684.5 68.4,644.2 69.6,649.5 71.4,660.2 73.2,671.5 74.2,674.8 75.3,670.0 77.3,659.0 80.2,649.6 81.5,648.2 82.5,646.7 83.5,648.3 84.9,649.6 85.8,651.0 87.2,652.0 89.5,645.0 90.4,643.5 90.8,641.7 91.9,640.3 92.9,641.4 94.2,642.0 96.6,640.9 98.0,640.4 99.5,640.3 100.6,641.8 101.8,643.2 103.8,635.0 104.6,636.3 105.0,637.8 105.9,639.1 106.9,640.3 107.7,641.7 108.3,643.2 109.6,644.8 110.6,646.7 112.0,647.3 113.4,648.7 114.3,650.4 114.9,651.8 116.0,652.8 116.9,654.0 118.7,660.2 120.5,664.7 121.9,665.4 123.2,666.4 125.0,667.2 126.8,668.2 128.5,670.0 129.0,671.5 130.3,672.4 131.2,673.6 132.3,674.6 132.8,676.1 133.9,677.1 135.2,678.5 136.6,679.8 137.6,681.5 139.2,682.5 141.1,682.6 142.8,683.4 144.6,683.5 146.4,684.0 148.2,683.9 149.9,684.4 151.7,684.7 153.5,684.5 155.0,684.2 156.5,684.5 158.0,684.5 159.5,684.6 161.0,685.0" stroke="#ff0000" stroke-width="1.7"/>
<polyline points="42.5,685.0 43.9,685.4 45.3,685.1 46.8,685.4 48.2,684.9 49.6,685.3 51.0,685.0 52.4,684.8 53.9,685.2 55.3,685.4 56.7,684.6 58.1,685.1 59.5,685.1 60.9,684.7 62.4,684.9 63.8,684.7 65.2,684.7 66.6,684.8 68.0,685.1 69.5,685.1 70.9,684.7 72.3,685.0 73.2,667.2 74.9,653.1 76.7,667.2 78.4,681.2 79.4,682.4 79.7,683.9 80.2,685.3 81.5,683.9 82.5,682.4 83.1,681.1 84.0,680.0 84.9,678.9 86.6,674.2 87.7,675.8 88.4,677.7 89.0,679.0 90.1,680.0 91.9,667.2 93.1,646.1 94.8,655.5 97.1,671.9 99.5,665.0 101.2,669.5 101.8,670.8 102.8,672.0 103.3,673.3 103.6,674.8 104.3,673.2 105.2,671.7 105.9,670.1 106.4,671.6 107.1,673.0 109.4,653.7 112.0,667.2 113.4,671.3 114.6,672.3 115.4,673.5 116.0,674.9 117.1,675.9 118.4,676.6 119.6,677.5 121.4,677.8 123.2,678.4 125.1,679.1 126.8,680.2 128.2,680.9 129.8,680.6 131.2,681.1 132.7,681.8 134.2,682.2 135.7,682.9 137.5,683.1 139.2,683.8 141.0,683.8 142.8,684.4 144.6,684.0 146.4,684.3 148.2,684.2 149.9,684.8 151.7,684.7 153.3,684.5 154.8,684.3 156.3,685.2 157.9,684.8 159.4,685.2 161.0,684.9" stroke="#0000ff" stroke-width="1.7"/>
</g>
<path d="M42.90,597.20 V698.10 H160.80 M42.90,597.20 H158.80" stroke="#000" stroke-width="1.5" fill="none"/>
<path d="M158.30,597.20 H160.80 V698.10" stroke="#ff0000" stroke-width="1.5" fill="none"/>
<path d="M53.62,698.10 v-4 M64.34,698.10 v-2 M75.05,698.10 v-4 M85.77,698.10 v-2 M96.49,698.10 v-4 M107.21,698.10 v-2 M117.93,698.10 v-4 M128.65,698.10 v-2 M139.36,698.10 v-4 M150.08,698.10 v-2 M42.90,686.89 h2 M42.90,675.68 h4 M42.90,664.47 h2 M42.90,653.26 h4 M42.90,642.04 h2 M42.90,630.83 h4 M42.90,619.62 h2 M42.90,608.41 h4" stroke="#000" stroke-width="1.5" fill="none"/>
<path d="M160.80,685.49 h-4 M160.80,672.88 h-2 M160.80,660.26 h-4 M160.80,647.65 h-2 M160.80,635.04 h-4 M160.80,622.42 h-2 M160.80,609.81 h-4" stroke="#ff0000" stroke-width="1.5" fill="none"/>
<text x="53.62" y="712.90" class="n" text-anchor="middle">-0.1</text>
<text x="75.05" y="712.90" class="n" text-anchor="middle">0.0</text>
<text x="96.49" y="712.90" class="n" text-anchor="middle">0.1</text>
<text x="117.93" y="712.90" class="n" text-anchor="middle">0.2</text>
<text x="139.36" y="712.90" class="n" text-anchor="middle">0.3</text>
<text x="160.80" y="712.90" class="n" text-anchor="middle">0.4</text>
<text x="37.2" y="702.00" class="n" text-anchor="end">0</text>
<text x="37.2" y="679.58" class="n" text-anchor="end">10</text>
<text x="37.2" y="657.16" class="n" text-anchor="end">20</text>
<text x="37.2" y="634.73" class="n" text-anchor="end">30</text>
<text x="37.2" y="612.31" class="n" text-anchor="end">40</text>
<text x="49.50" y="614.60" class="ni"><tspan font-style="italic">N</tspan><tspan font-style="italic" font-size="12" dx="-1.6" dy="3">i</tspan><tspan dx="-0.4" dy="-3">=1</tspan></text>
<clipPath id="c201"><rect x="178.80" y="597.20" width="117.90" height="100.90"/></clipPath>
<g clip-path="url(#c201)" fill="none" stroke-linejoin="round" stroke-linecap="round">
<path d="M178.50,681.20 C179.20,680.95 181.22,680.32 182.70,679.70 C184.18,679.08 185.85,678.42 187.40,677.50 C188.95,676.58 190.45,675.53 192.00,674.20 C193.55,672.87 195.33,671.15 196.70,669.50 C198.07,667.85 199.03,666.35 200.20,664.30 C201.37,662.25 202.47,659.95 203.70,657.20 C204.93,654.45 206.30,650.92 207.60,647.80 C208.90,644.68 210.27,641.42 211.50,638.50 C212.73,635.58 213.83,632.93 215.00,630.30 C216.17,627.67 217.33,624.93 218.50,622.70 C219.67,620.47 220.83,618.62 222.00,616.90 C223.17,615.18 224.32,613.53 225.50,612.40 C226.68,611.27 227.92,610.62 229.10,610.10 C230.28,609.58 231.43,609.38 232.60,609.30 C233.77,609.22 234.93,609.40 236.10,609.60 C237.27,609.80 238.43,610.17 239.60,610.50 C240.77,610.83 241.70,611.17 243.10,611.60 C244.50,612.03 246.80,612.73 248.00,613.10 C249.20,613.47 248.43,613.08 250.30,613.80 C252.17,614.52 256.23,616.20 259.20,617.40 C262.17,618.60 265.13,619.97 268.10,621.00 C271.07,622.03 274.03,622.72 277.00,623.60 C279.97,624.48 282.65,625.43 285.90,626.30 C289.15,627.17 294.73,628.38 296.50,628.80" stroke="#000" stroke-width="1.7"/>
<polyline points="178.5,684.8 179.9,684.7 181.4,685.1 182.8,684.8 184.3,684.5 185.7,684.4 187.2,684.8 188.6,684.9 190.1,685.2 191.5,684.4 193.0,684.9 194.4,684.7 195.9,684.8 197.3,684.5 198.8,684.6 200.2,684.8 201.4,673.0 202.6,668.3 204.3,667.2 206.1,667.8 207.0,666.1 207.8,664.3 209.0,662.7 209.6,660.7 210.2,659.3 211.3,658.4 213.1,657.0 215.0,656.1 216.2,654.6 217.4,653.1 218.7,652.1 219.7,650.8 221.2,649.6 222.0,647.9 224.4,646.7 224.7,645.2 225.2,643.8 226.1,642.6 227.3,637.9 227.9,639.3 229.1,640.3 230.8,640.9 232.6,641.4 234.3,643.2 236.1,642.6 237.8,644.4 239.6,643.2 239.8,644.7 240.7,645.9 241.3,647.3 242.5,648.5 243.1,650.2 244.0,651.4 245.4,652.0 248.0,652.6 249.4,653.3 250.7,652.8 252.1,652.4 252.4,653.9 253.3,655.1 253.8,656.5 254.7,657.7 256.3,658.8 257.4,660.4 258.6,661.9 260.1,663.1 261.2,664.1 262.0,665.4 262.8,666.6 263.4,668.0 264.3,669.2 265.4,670.2 267.0,671.3 268.1,672.9 269.2,673.9 270.0,675.2 270.8,676.5 272.1,677.4 273.5,678.2 276.1,679.1 276.9,677.9 277.9,676.8 279.1,678.2 279.7,680.0 281.6,680.7 283.3,681.8 284.7,682.6 286.1,683.3 287.7,683.6 289.6,683.6 291.3,684.5 293.0,684.9 294.7,685.3 296.5,685.4" stroke="#ff0000" stroke-width="1.7"/>
<polyline points="178.5,684.8 180.0,684.4 181.4,685.1 182.9,684.5 184.4,684.9 185.8,684.8 187.3,684.9 188.8,684.6 190.2,684.7 191.7,684.9 193.2,684.7 194.6,684.9 196.1,684.8 197.5,684.7 199.0,684.4 200.5,684.9 201.9,684.8 203.4,684.6 204.9,685.0 206.3,685.1 207.8,684.8 209.6,678.9 211.0,669.5 212.2,668.3 213.7,673.0 214.3,674.4 215.1,675.6 215.4,677.1 217.4,678.3 219.7,678.9 221.5,680.0 222.6,673.0 224.4,665.4 225.3,667.1 226.1,668.9 227.3,657.8 228.8,649.6 230.2,657.8 232.0,667.2 233.2,668.5 233.7,670.1 234.0,668.6 234.8,667.4 235.2,666.0 236.1,664.8 237.8,670.7 239.3,648.5 240.7,653.1 242.2,663.7 242.9,662.2 243.7,660.7 245.4,668.3 247.2,657.8 248.8,651.5 249.7,653.3 250.6,655.1 252.4,660.4 254.7,666.6 257.0,665.8 259.2,658.6 261.0,666.6 262.3,668.2 262.8,670.2 265.4,671.1 268.1,671.1 268.7,672.5 269.8,673.6 269.9,675.2 270.8,676.5 272.0,678.0 273.5,679.1 276.1,680.0 278.8,680.0 280.6,680.7 282.4,681.4 284.3,681.7 285.9,682.7 287.7,682.7 289.5,682.7 291.3,683.0 293.1,683.6 294.8,683.8 296.5,683.2" stroke="#0000ff" stroke-width="1.7"/>
</g>
<path d="M178.80,597.20 V698.10 H296.70 M178.80,597.20 H294.70" stroke="#000" stroke-width="1.5" fill="none"/>
<path d="M294.20,597.20 H296.70 V698.10" stroke="#ff0000" stroke-width="1.5" fill="none"/>
<path d="M189.52,698.10 v-4 M200.24,698.10 v-2 M210.95,698.10 v-4 M221.67,698.10 v-2 M232.39,698.10 v-4 M243.11,698.10 v-2 M253.83,698.10 v-4 M264.55,698.10 v-2 M275.26,698.10 v-4 M285.98,698.10 v-2 M178.80,686.89 h2 M178.80,675.68 h4 M178.80,664.47 h2 M178.80,653.26 h4 M178.80,642.04 h2 M178.80,630.83 h4 M178.80,619.62 h2 M178.80,608.41 h4" stroke="#000" stroke-width="1.5" fill="none"/>
<path d="M296.70,685.49 h-4 M296.70,672.88 h-2 M296.70,660.26 h-4 M296.70,647.65 h-2 M296.70,635.04 h-4 M296.70,622.42 h-2 M296.70,609.81 h-4" stroke="#ff0000" stroke-width="1.5" fill="none"/>
<text x="189.52" y="712.90" class="n" text-anchor="middle">-0.1</text>
<text x="210.95" y="712.90" class="n" text-anchor="middle">0.0</text>
<text x="232.39" y="712.90" class="n" text-anchor="middle">0.1</text>
<text x="253.83" y="712.90" class="n" text-anchor="middle">0.2</text>
<text x="275.26" y="712.90" class="n" text-anchor="middle">0.3</text>
<text x="296.70" y="712.90" class="n" text-anchor="middle">0.4</text>
<text x="301.3" y="689.39" class="n r">0.0</text>
<text x="301.3" y="664.16" class="n r">0.1</text>
<text x="301.3" y="638.94" class="n r">0.2</text>
<text x="301.3" y="613.71" class="n r">0.3</text>
<text x="185.40" y="614.60" class="ni"><tspan font-style="italic">N</tspan><tspan font-style="italic" font-size="12" dx="-1.6" dy="3">i</tspan><tspan dx="-0.4" dy="-3">=2</tspan></text>
<clipPath id="c210"><rect x="42.90" y="724.10" width="117.90" height="100.90"/></clipPath>
<g clip-path="url(#c210)" fill="none" stroke-linejoin="round" stroke-linecap="round">
<path d="M42.50,807.60 C43.20,807.37 45.22,806.82 46.70,806.20 C48.18,805.58 49.85,804.83 51.40,803.90 C52.95,802.97 54.45,801.93 56.00,800.60 C57.55,799.27 59.33,797.55 60.70,795.90 C62.07,794.25 63.03,792.75 64.20,790.70 C65.37,788.65 66.47,786.25 67.70,783.60 C68.93,780.95 70.30,777.72 71.60,774.80 C72.90,771.88 74.27,768.92 75.50,766.10 C76.73,763.28 77.83,760.53 79.00,757.90 C80.17,755.27 81.33,752.53 82.50,750.30 C83.67,748.07 84.83,746.25 86.00,744.50 C87.17,742.75 88.32,740.97 89.50,739.80 C90.68,738.63 91.92,738.03 93.10,737.50 C94.28,736.97 95.43,736.75 96.60,736.60 C97.77,736.45 98.93,736.45 100.10,736.60 C101.27,736.75 102.43,737.17 103.60,737.50 C104.77,737.83 105.70,738.12 107.10,738.60 C108.50,739.08 110.80,739.97 112.00,740.40 C113.20,740.83 112.43,740.35 114.30,741.20 C116.17,742.05 120.23,744.18 123.20,745.50 C126.17,746.82 129.13,747.92 132.10,749.10 C135.07,750.28 138.03,751.42 141.00,752.60 C143.97,753.78 146.57,755.10 149.90,756.20 C153.23,757.30 159.15,758.70 161.00,759.20" stroke="#000" stroke-width="1.7"/>
<polyline points="42.5,811.5 44.0,811.1 45.5,811.7 47.0,811.8 48.5,811.3 50.2,807.0 52.0,808.5 52.7,809.9 53.7,811.0 55.2,811.4 56.8,810.9 58.3,811.7 59.8,811.3 61.6,811.0 63.4,810.8 65.2,811.3 67.1,811.3 68.9,811.0 69.2,809.5 70.1,808.2 71.2,796.5 72.4,787.2 73.2,786.0 74.3,785.0 74.9,783.6 75.5,785.6 76.7,787.2 77.8,791.8 79.6,785.4 81.4,783.6 81.9,782.2 83.1,781.3 83.9,779.5 84.9,777.8 86.6,770.8 87.7,769.5 88.4,767.9 89.4,766.8 90.7,766.1 92.0,764.9 92.8,763.2 94.2,767.3 96.0,766.7 97.5,767.9 98.9,763.8 99.4,762.2 100.3,760.8 100.8,762.7 101.8,764.4 103.6,769.0 105.3,770.2 107.1,769.0 108.0,770.2 108.2,771.7 108.8,773.1 110.6,778.4 112.0,780.1 113.4,781.4 115.2,782.1 116.3,783.4 117.1,784.9 117.8,786.5 119.1,787.9 120.5,789.2 123.2,789.2 124.7,790.4 125.9,791.9 127.5,792.9 128.5,794.5 129.7,793.0 131.2,791.9 132.5,791.2 133.9,791.0 135.0,792.6 136.6,793.6 137.8,794.6 139.2,795.4 140.8,796.6 142.8,797.2 144.7,797.8 146.4,799.0 147.4,800.1 148.9,800.5 149.9,801.7 151.7,802.6 153.5,803.5 154.6,804.5 156.0,805.1 157.1,806.1 158.3,807.0 159.7,807.4 161.0,808.0" stroke="#ff0000" stroke-width="1.7"/>
<polyline points="42.5,811.7 44.0,811.8 45.5,812.0 47.0,811.3 48.5,812.1 50.0,811.7 51.5,811.5 53.0,811.8 54.5,811.3 56.0,812.0 57.5,811.6 59.0,811.5 59.6,810.1 60.5,808.8 62.3,808.9 64.0,808.6 66.6,808.8 68.0,811.1 69.5,811.0 71.0,810.8 72.5,811.3 74.0,810.7 75.5,811.4 77.0,811.1 77.6,809.5 78.7,808.1 79.4,806.5 80.0,808.2 81.4,809.4 82.6,807.7 83.7,805.9 84.9,794.2 85.8,774.3 87.2,776.6 89.0,781.3 90.1,786.0 91.6,794.8 92.8,787.2 94.2,780.1 95.2,779.0 96.0,777.8 97.7,777.2 98.8,775.6 100.1,774.3 100.5,772.4 101.8,770.8 102.6,767.3 103.8,768.9 104.2,770.8 105.3,779.0 106.5,781.3 108.3,776.6 109.7,772.0 110.7,773.6 111.2,775.5 112.0,777.8 113.9,779.4 116.0,781.2 117.8,775.8 119.6,781.2 121.4,774.9 124.1,767.8 125.4,769.2 126.8,770.5 128.1,771.8 129.4,773.2 130.6,772.3 131.7,771.4 133.9,778.5 135.0,780.1 136.6,781.2 137.7,782.2 138.5,783.4 139.2,784.7 140.0,786.0 141.3,786.8 141.9,788.3 144.2,788.3 146.0,782.9 146.3,781.2 147.3,779.9 148.2,778.5 149.8,779.6 150.8,781.2 151.6,782.7 152.4,784.2 152.8,785.9 153.5,787.4 154.1,789.0 155.1,790.4 155.4,792.1 156.2,793.6 157.6,794.5 158.9,795.4 161.0,797.2" stroke="#0000ff" stroke-width="1.7"/>
</g>
<path d="M42.90,724.10 V825.00 H160.80 M42.90,724.10 H158.80" stroke="#000" stroke-width="1.5" fill="none"/>
<path d="M158.30,724.10 H160.80 V825.00" stroke="#ff0000" stroke-width="1.5" fill="none"/>
<path d="M53.62,825.00 v-4 M64.34,825.00 v-2 M75.05,825.00 v-4 M85.77,825.00 v-2 M96.49,825.00 v-4 M107.21,825.00 v-2 M117.93,825.00 v-4 M128.65,825.00 v-2 M139.36,825.00 v-4 M150.08,825.00 v-2 M42.90,813.79 h2 M42.90,802.58 h4 M42.90,791.37 h2 M42.90,780.16 h4 M42.90,768.94 h2 M42.90,757.73 h4 M42.90,746.52 h2 M42.90,735.31 h4" stroke="#000" stroke-width="1.5" fill="none"/>
<path d="M160.80,812.39 h-4 M160.80,799.77 h-2 M160.80,787.16 h-4 M160.80,774.55 h-2 M160.80,761.94 h-4 M160.80,749.33 h-2 M160.80,736.71 h-4" stroke="#ff0000" stroke-width="1.5" fill="none"/>
<text x="53.62" y="839.80" class="n" text-anchor="middle">-0.1</text>
<text x="75.05" y="839.80" class="n" text-anchor="middle">0.0</text>
<text x="96.49" y="839.80" class="n" text-anchor="middle">0.1</text>
<text x="117.93" y="839.80" class="n" text-anchor="middle">0.2</text>
<text x="139.36" y="839.80" class="n" text-anchor="middle">0.3</text>
<text x="160.80" y="839.80" class="n" text-anchor="middle">0.4</text>
<text x="37.2" y="828.90" class="n" text-anchor="end">0</text>
<text x="37.2" y="806.48" class="n" text-anchor="end">10</text>
<text x="37.2" y="784.06" class="n" text-anchor="end">20</text>
<text x="37.2" y="761.63" class="n" text-anchor="end">30</text>
<text x="37.2" y="739.21" class="n" text-anchor="end">40</text>
<text x="49.50" y="741.50" class="ni"><tspan font-style="italic">N</tspan><tspan font-style="italic" font-size="12" dx="-1.6" dy="3">i</tspan><tspan dx="-0.4" dy="-3">=3</tspan></text>
<clipPath id="c211"><rect x="178.80" y="724.10" width="117.90" height="100.90"/></clipPath>
<g clip-path="url(#c211)" fill="none" stroke-linejoin="round" stroke-linecap="round">
<path d="M178.50,807.60 C179.20,807.35 181.22,806.72 182.70,806.10 C184.18,805.48 185.85,804.82 187.40,803.90 C188.95,802.98 190.45,801.93 192.00,800.60 C193.55,799.27 195.33,797.55 196.70,795.90 C198.07,794.25 199.03,792.83 200.20,790.70 C201.37,788.57 202.47,785.97 203.70,783.10 C204.93,780.23 206.30,776.62 207.60,773.50 C208.90,770.38 210.27,767.28 211.50,764.40 C212.73,761.52 213.83,758.75 215.00,756.20 C216.17,753.65 217.33,751.25 218.50,749.10 C219.67,746.95 220.83,744.85 222.00,743.30 C223.17,741.75 224.32,740.63 225.50,739.80 C226.68,738.97 227.92,738.55 229.10,738.30 C230.28,738.05 231.43,738.20 232.60,738.30 C233.77,738.40 234.95,738.42 236.10,738.90 C237.25,739.38 238.35,740.40 239.50,741.20 C240.65,742.00 241.83,742.88 243.00,743.70 C244.17,744.52 245.33,745.38 246.50,746.10 C247.67,746.82 248.83,747.30 250.00,748.00 C251.17,748.70 252.62,749.72 253.50,750.30 C254.38,750.88 254.90,750.43 255.30,751.50 C255.70,752.57 255.75,754.47 255.90,756.70 C256.05,758.93 256.07,761.58 256.20,764.90 C256.33,768.22 256.53,772.70 256.70,776.60 C256.87,780.50 257.05,784.40 257.20,788.30 C257.35,792.20 257.43,796.10 257.60,800.00 C257.77,803.90 258.00,807.37 258.20,811.70 C258.40,816.03 258.70,823.62 258.80,826.00" stroke="#000" stroke-width="1.7"/>
<polyline points="178.5,811.0 179.5,810.8 180.3,809.0 181.5,810.5 182.9,810.2 184.3,810.9 185.8,810.3 187.2,810.2 188.6,810.1 190.0,810.6 191.4,810.8 192.9,810.8 194.3,810.4 195.7,810.3 197.1,810.1 198.6,810.6 200.0,810.6 201.4,810.5 203.1,805.9 204.3,798.9 205.5,793.6 207.0,789.5 208.4,790.7 209.8,791.8 210.4,790.3 211.3,788.9 213.8,782.5 215.6,781.3 216.4,782.5 217.4,783.6 219.1,779.0 220.3,770.8 222.0,764.4 223.8,757.9 225.3,759.7 226.7,756.2 228.5,755.6 230.2,761.4 231.0,762.9 231.4,764.7 232.6,766.1 233.6,767.7 234.9,769.0 236.0,769.6 237.1,771.2 237.8,773.1 239.5,777.8 240.4,779.2 241.8,780.1 243.2,780.7 244.2,781.9 246.5,783.1 247.7,784.3 248.9,785.4 251.2,786.6 253.5,787.2 254.7,788.3 255.6,786.0 256.1,770.8 256.6,753.2 257.3,738.0 258.2,732.2 259.4,730.4" stroke="#ff0000" stroke-width="1.7"/>
<polyline points="274.0,729.6 276.0,730.5" stroke="#ff0000" stroke-width="1.7"/>
<polyline points="294.4,734.5 297.0,735.0" stroke="#ff0000" stroke-width="1.7"/>
<polyline points="259.4,730.4 261.0,729.5 262.3,731.9 263.6,729.2 264.9,732.3 266.2,729.1 267.5,732.1 268.8,730.0 270.1,731.9 271.4,729.3 272.7,732.2 274.0,729.6" stroke="#ff0000" stroke-width="1.35"/>
<polyline points="276.0,730.5 277.5,731.4 278.8,734.6 280.1,731.0 281.4,734.1 282.7,731.1 284.0,733.8 285.3,731.7 286.6,734.6 287.9,731.5 289.2,733.8 290.5,731.6 291.8,734.5 293.1,731.3 294.4,734.5" stroke="#ff0000" stroke-width="1.35"/>
<polyline points="178.5,811.5 180.0,811.4 181.5,811.2 183.0,811.0 184.5,811.1 186.0,810.9 187.5,811.1 189.0,811.2 190.5,809.0 191.5,808.0 192.8,809.5 194.5,811.0 196.1,811.2 197.6,811.1 199.2,811.2 200.8,811.1 202.3,810.7 203.9,810.9 205.4,810.8 207.0,810.8 208.4,809.4 210.3,810.5 211.9,811.3 213.3,811.7 214.3,809.4 215.6,807.6 217.4,801.2 218.4,799.7 219.0,798.1 219.7,796.5 221.5,789.5 222.6,791.8 223.8,787.2 225.0,789.5 226.1,784.2 227.3,787.7 228.5,773.1 229.6,764.9 231.4,757.9 233.1,749.7 234.9,745.1 236.5,743.5 238.3,742.7 239.0,741.4 240.1,740.4 241.1,738.7 241.8,736.9 243.6,736.3 245.4,738.0 247.1,736.9 247.6,738.8 248.9,740.4 250.6,739.2 252.4,745.6 253.5,736.9 254.5,728.7 255.3,731.0 256.1,726.3 257.1,723.0 258.6,722.7 260.0,723.0 261.1,729.3 262.0,730.5 262.7,728.7 263.8,723.0 265.4,723.3 267.0,722.4 268.6,722.5 270.3,722.4 271.9,722.8 273.5,722.5 273.7,724.0 274.4,725.3 275.2,726.6 277.0,731.9 278.8,740.8 280.6,749.8 282.4,751.5 283.4,753.2 284.2,755.1 285.9,753.3 287.7,758.7 289.5,764.9 291.6,765.8 292.2,767.3 293.4,768.5 294.0,767.2 294.7,766.0 295.7,764.9 297.0,766.0" stroke="#0000ff" stroke-width="1.7"/>
<polyline points="259.3,824.5 262.0,824.0 264.0,822.8 266.0,824.0 268.2,821.0 270.0,823.8 272.0,823.5 274.6,821.3 276.0,823.8 279.0,823.5 281.0,821.3 283.0,819.2 285.0,821.5 287.0,823.8 289.0,823.3 291.3,822.5 293.0,823.8 296.5,824.5" stroke="#000" stroke-width="1.3"/>
</g>
<path d="M178.80,724.10 V825.00 H296.70 M178.80,724.10 H294.70" stroke="#000" stroke-width="1.5" fill="none"/>
<path d="M294.20,724.10 H296.70 V825.00" stroke="#ff0000" stroke-width="1.5" fill="none"/>
<path d="M189.52,825.00 v-4 M200.24,825.00 v-2 M210.95,825.00 v-4 M221.67,825.00 v-2 M232.39,825.00 v-4 M243.11,825.00 v-2 M253.83,825.00 v-4 M264.55,825.00 v-2 M275.26,825.00 v-4 M285.98,825.00 v-2 M178.80,813.79 h2 M178.80,802.58 h4 M178.80,791.37 h2 M178.80,780.16 h4 M178.80,768.94 h2 M178.80,757.73 h4 M178.80,746.52 h2 M178.80,735.31 h4" stroke="#000" stroke-width="1.5" fill="none"/>
<path d="M296.70,812.39 h-4 M296.70,799.77 h-2 M296.70,787.16 h-4 M296.70,774.55 h-2 M296.70,761.94 h-4 M296.70,749.33 h-2 M296.70,736.71 h-4" stroke="#ff0000" stroke-width="1.5" fill="none"/>
<text x="189.52" y="839.80" class="n" text-anchor="middle">-0.1</text>
<text x="210.95" y="839.80" class="n" text-anchor="middle">0.0</text>
<text x="232.39" y="839.80" class="n" text-anchor="middle">0.1</text>
<text x="253.83" y="839.80" class="n" text-anchor="middle">0.2</text>
<text x="275.26" y="839.80" class="n" text-anchor="middle">0.3</text>
<text x="296.70" y="839.80" class="n" text-anchor="middle">0.4</text>
<text x="301.3" y="816.29" class="n r">0.0</text>
<text x="301.3" y="791.06" class="n r">0.1</text>
<text x="301.3" y="765.84" class="n r">0.2</text>
<text x="301.3" y="740.61" class="n r">0.3</text>
<text x="185.40" y="741.50" class="ni"><tspan font-style="italic">N</tspan><tspan font-style="italic" font-size="12" dx="-1.6" dy="3">i</tspan><tspan dx="-0.4" dy="-3">=4</tspan></text>
<text x="199.7" y="819.7" class="bk">breakdown</text>
<path d="M248.20,810.50 L253.82,803.66" stroke="#000" stroke-width="1.5" fill="none"/>
<path d="M257.00,799.80 L255.35,806.21 L251.03,802.66 Z" fill="#000"/>
<text transform="translate(15.8,713.00) rotate(-90)" class="ax" text-anchor="middle">Voltage (kV)</text>
<text transform="translate(337.4,714.30) rotate(-90)" class="ax2 r" text-anchor="middle">Light intensity (a.u.)</text>
<text x="168.8" y="856.9" class="ax2" text-anchor="middle">Time (μs)</text>
</svg>
</body></html>
